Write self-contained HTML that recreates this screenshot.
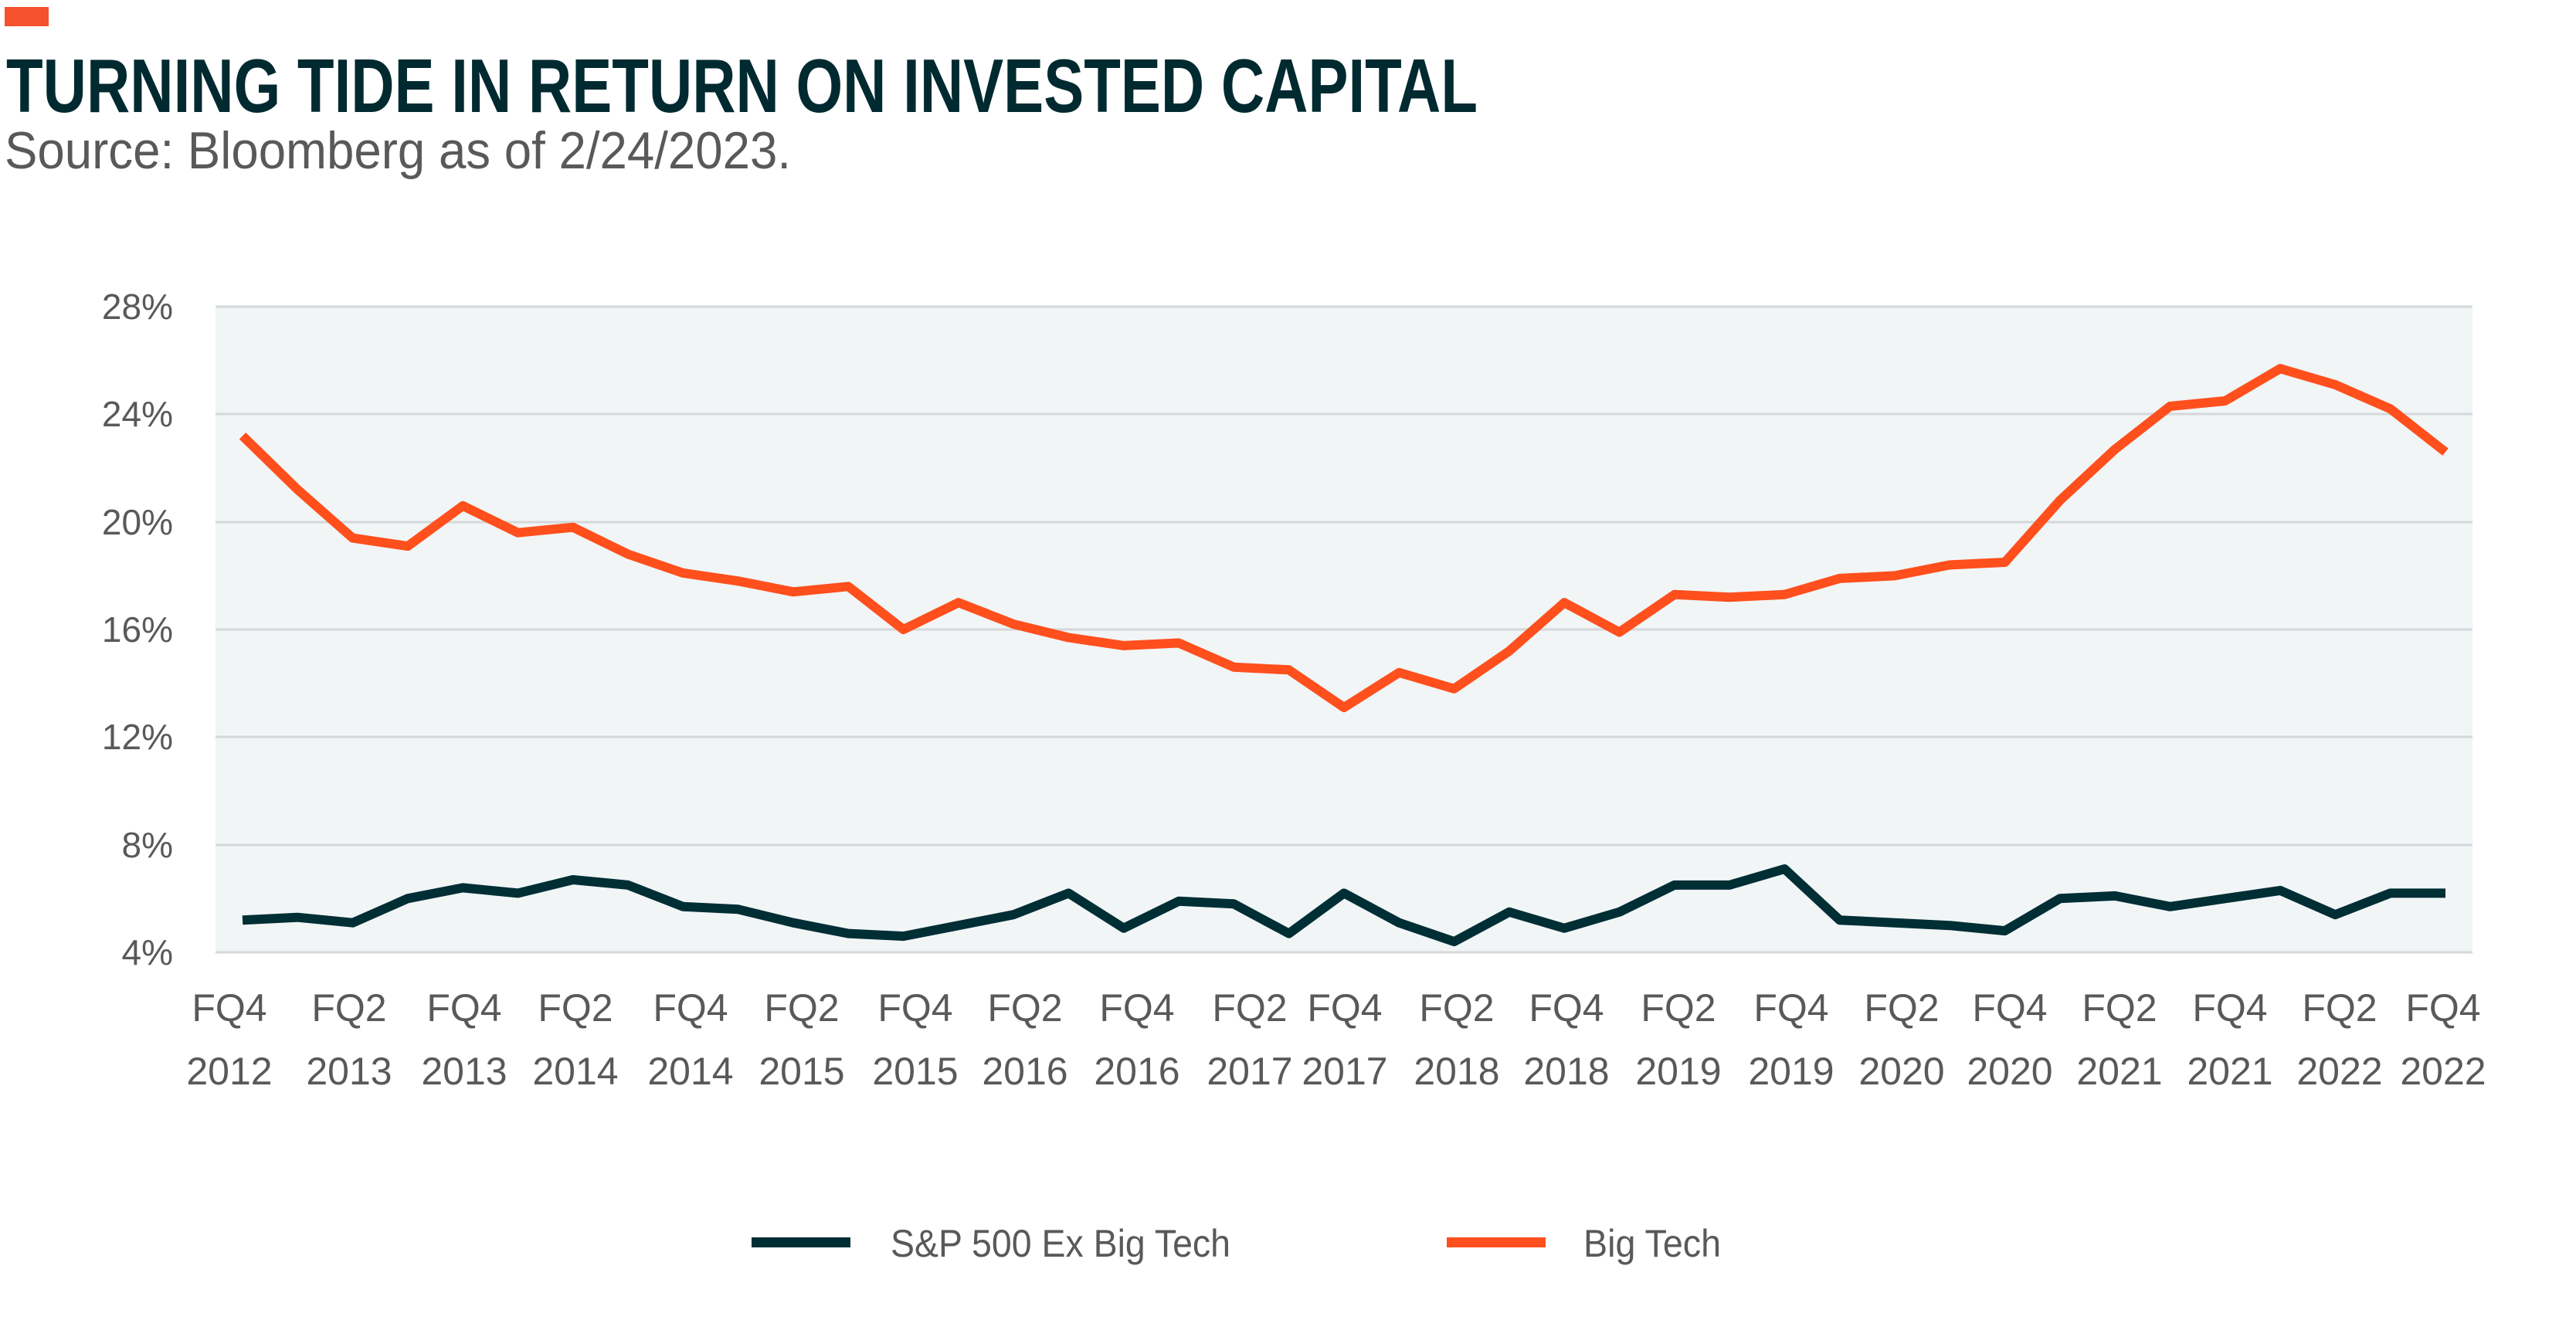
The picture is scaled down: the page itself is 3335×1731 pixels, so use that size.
<!DOCTYPE html>
<html><head><meta charset="utf-8"><style>
html,body{margin:0;padding:0;background:#fff;}
svg{display:block;}
</style></head><body>
<svg width="3335" height="1731" viewBox="0 0 3335 1731" xmlns="http://www.w3.org/2000/svg" font-family="'Liberation Sans Narrow','Liberation Sans',sans-serif">
<rect x="6" y="9" width="57" height="25" fill="#F4512C"/>
<text x="8" y="145" font-size="98" font-weight="bold" fill="#002A30" textLength="1905" lengthAdjust="spacingAndGlyphs">TURNING TIDE IN RETURN ON INVESTED CAPITAL</text>
<text x="6" y="218" font-size="68" fill="#58595B" textLength="1018" lengthAdjust="spacingAndGlyphs">Source: Bloomberg as of 2/24/2023.</text>
<rect x="279" y="396" width="2922" height="837" fill="#F1F5F6"/>
<g stroke="#D5D8DA" stroke-width="3">
<line x1="279" y1="397" x2="3201" y2="397"/>
<line x1="279" y1="536" x2="3201" y2="536"/>
<line x1="279" y1="676" x2="3201" y2="676"/>
<line x1="279" y1="815" x2="3201" y2="815"/>
<line x1="279" y1="954" x2="3201" y2="954"/>
<line x1="279" y1="1094" x2="3201" y2="1094"/>
<line x1="279" y1="1233" x2="3201" y2="1233"/>
</g>
<g font-size="46" fill="#58595B" text-anchor="end">
<text x="224" y="413">28%</text>
<text x="224" y="552">24%</text>
<text x="224" y="692">20%</text>
<text x="224" y="831">16%</text>
<text x="224" y="970">12%</text>
<text x="224" y="1110">8%</text>
<text x="224" y="1249">4%</text>
</g>
<g font-size="50" fill="#58595B" text-anchor="middle">
<text x="297" y="1322">FQ4</text><text x="297" y="1404">2012</text>
<text x="452" y="1322">FQ2</text><text x="452" y="1404">2013</text>
<text x="601" y="1322">FQ4</text><text x="601" y="1404">2013</text>
<text x="745" y="1322">FQ2</text><text x="745" y="1404">2014</text>
<text x="894" y="1322">FQ4</text><text x="894" y="1404">2014</text>
<text x="1038" y="1322">FQ2</text><text x="1038" y="1404">2015</text>
<text x="1185" y="1322">FQ4</text><text x="1185" y="1404">2015</text>
<text x="1327" y="1322">FQ2</text><text x="1327" y="1404">2016</text>
<text x="1472" y="1322">FQ4</text><text x="1472" y="1404">2016</text>
<text x="1618" y="1322">FQ2</text><text x="1618" y="1404">2017</text>
<text x="1741" y="1322">FQ4</text><text x="1741" y="1404">2017</text>
<text x="1886" y="1322">FQ2</text><text x="1886" y="1404">2018</text>
<text x="2028" y="1322">FQ4</text><text x="2028" y="1404">2018</text>
<text x="2173" y="1322">FQ2</text><text x="2173" y="1404">2019</text>
<text x="2319" y="1322">FQ4</text><text x="2319" y="1404">2019</text>
<text x="2462" y="1322">FQ2</text><text x="2462" y="1404">2020</text>
<text x="2602" y="1322">FQ4</text><text x="2602" y="1404">2020</text>
<text x="2744" y="1322">FQ2</text><text x="2744" y="1404">2021</text>
<text x="2887" y="1322">FQ4</text><text x="2887" y="1404">2021</text>
<text x="3029" y="1322">FQ2</text><text x="3029" y="1404">2022</text>
<text x="3163" y="1322">FQ4</text><text x="3163" y="1404">2022</text>
</g>
<polyline id="blk" fill="none" stroke="#002E35" stroke-width="12" stroke-linejoin="round" points=""/>
<polyline id="org" fill="none" stroke="#FF4F1D" stroke-width="12" stroke-linejoin="round" points=""/>
<rect x="973" y="1602" width="128" height="13" fill="#002E35"/>
<text x="1153" y="1627" font-size="50" fill="#58595B" textLength="440" lengthAdjust="spacingAndGlyphs">S&amp;P 500 Ex Big Tech</text>
<rect x="1873" y="1602" width="128" height="13" fill="#FF4F1D"/>
<text x="2050" y="1627" font-size="50" fill="#58595B" textLength="178" lengthAdjust="spacingAndGlyphs">Big Tech</text>
</svg>
<script>
var o=[23.2,21.2,19.4,19.1,20.6,19.6,19.8,18.8,18.1,17.8,17.4,17.6,16.0,17.0,16.2,15.7,15.4,15.5,14.6,14.5,13.1,14.4,13.8,15.2,17.0,15.9,17.3,17.2,17.3,17.9,18.0,18.4,18.5,20.8,22.7,24.3,24.5,25.7,25.1,24.2,22.6];
var b=[5.2,5.3,5.1,6.0,6.4,6.2,6.7,6.5,5.7,5.6,5.1,4.7,4.6,5.0,5.4,6.2,4.9,5.9,5.8,4.7,6.2,5.1,4.4,5.5,4.9,5.5,6.5,6.5,7.1,5.2,5.1,5.0,4.8,6.0,6.1,5.7,6.0,6.3,5.4,6.2,6.2];
function p(a){return a.map(function(v,i){return (314+i*71.3).toFixed(1)+","+(1233-(v-4)*34.83).toFixed(1);}).join(" ");}
document.getElementById("org").setAttribute("points",p(o));
document.getElementById("blk").setAttribute("points",p(b));
</script>
</body></html>
